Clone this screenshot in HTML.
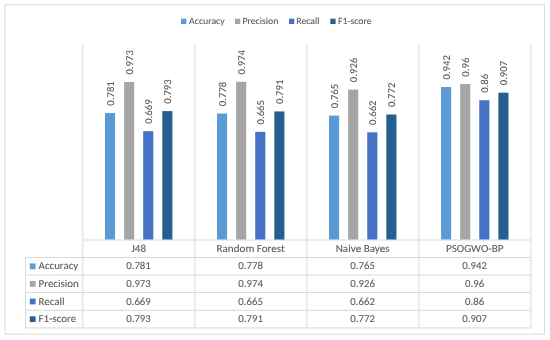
<!DOCTYPE html><html><head><meta charset="utf-8"><style>html,body{margin:0;padding:0;background:#fff;}svg{display:block}</style></head><body>
<svg width="550" height="340" viewBox="0 0 550 340">
<rect x="0" y="0" width="550" height="340" fill="#fff"/>
<path d="M5,4.6H544.5V334.2H5Z" fill="none" stroke="#DBDBDB" stroke-width="1"/>
<g stroke="#D9D9D9" stroke-width="1">
<line x1="82.80" y1="44" x2="82.80" y2="327.90"/>
<line x1="194.82" y1="44" x2="194.82" y2="327.90"/>
<line x1="306.85" y1="44" x2="306.85" y2="327.90"/>
<line x1="418.88" y1="44" x2="418.88" y2="327.90"/>
<line x1="530.90" y1="44" x2="530.90" y2="327.90"/>
<line x1="25.5" y1="257.5" x2="25.5" y2="327.9"/>
<line x1="82.8" y1="240" x2="530.9" y2="240"/>
<line x1="25" y1="257.5" x2="530.9" y2="257.5"/>
<line x1="25" y1="275.0" x2="530.9" y2="275.0"/>
<line x1="25" y1="292.5" x2="530.9" y2="292.5"/>
<line x1="25" y1="310.3" x2="530.9" y2="310.3"/>
<line x1="25" y1="327.9" x2="530.9" y2="327.9"/>
</g>
<rect x="104.99" y="113.06" width="10.1" height="126.44" fill="#5B9BD5"/>
<rect x="217.02" y="113.54" width="10.1" height="125.96" fill="#5B9BD5"/>
<rect x="329.04" y="115.65" width="10.1" height="123.85" fill="#5B9BD5"/>
<rect x="441.07" y="86.99" width="10.1" height="152.51" fill="#5B9BD5"/>
<rect x="124.09" y="81.97" width="10.1" height="157.53" fill="#A5A5A5"/>
<rect x="236.12" y="81.81" width="10.1" height="157.69" fill="#A5A5A5"/>
<rect x="348.14" y="89.58" width="10.1" height="149.92" fill="#A5A5A5"/>
<rect x="460.17" y="84.08" width="10.1" height="155.42" fill="#A5A5A5"/>
<rect x="143.19" y="131.19" width="10.1" height="108.31" fill="#4472C4"/>
<rect x="255.22" y="131.84" width="10.1" height="107.66" fill="#4472C4"/>
<rect x="367.24" y="132.32" width="10.1" height="107.18" fill="#4472C4"/>
<rect x="479.27" y="100.27" width="10.1" height="139.23" fill="#4472C4"/>
<rect x="162.29" y="111.11" width="10.1" height="128.39" fill="#255E91"/>
<rect x="274.32" y="111.44" width="10.1" height="128.06" fill="#255E91"/>
<rect x="386.34" y="114.51" width="10.1" height="124.99" fill="#255E91"/>
<rect x="498.37" y="92.66" width="10.1" height="146.84" fill="#255E91"/>
<rect x="181" y="18.7" width="5.3" height="5.3" fill="#5B9BD5"/>
<rect x="235" y="18.7" width="5.3" height="5.3" fill="#A5A5A5"/>
<rect x="289" y="18.7" width="5.3" height="5.3" fill="#4472C4"/>
<rect x="330.3" y="18.7" width="5.3" height="5.3" fill="#255E91"/>
<rect x="29.8" y="263.45" width="5.8" height="5.8" fill="#5B9BD5"/>
<rect x="29.8" y="280.95" width="5.8" height="5.8" fill="#A5A5A5"/>
<rect x="29.8" y="298.60" width="5.8" height="5.8" fill="#4472C4"/>
<rect x="29.8" y="316.30" width="5.8" height="5.8" fill="#255E91"/>
<g font-family='Carlito, "Liberation Sans", sans-serif' text-rendering="geometricPrecision" fill="#595959" stroke="#595959" stroke-width="0.08">
<text transform="translate(113.51,105.66) rotate(-90) scale(1.02,1.0)" font-size="10.5">0.781</text>
<text transform="translate(225.54,106.14) rotate(-90) scale(1.02,1.0)" font-size="10.5">0.778</text>
<text transform="translate(337.56,108.25) rotate(-90) scale(1.02,1.0)" font-size="10.5">0.765</text>
<text transform="translate(449.59,79.59) rotate(-90) scale(1.02,1.0)" font-size="10.5">0.942</text>
<text transform="translate(132.61,74.57) rotate(-90) scale(1.02,1.0)" font-size="10.5">0.973</text>
<text transform="translate(244.64,74.41) rotate(-90) scale(1.02,1.0)" font-size="10.5">0.974</text>
<text transform="translate(356.66,82.18) rotate(-90) scale(1.02,1.0)" font-size="10.5">0.926</text>
<text transform="translate(468.69,76.68) rotate(-90) scale(1.02,1.0)" font-size="10.5">0.96</text>
<text transform="translate(151.71,123.79) rotate(-90) scale(1.02,1.0)" font-size="10.5">0.669</text>
<text transform="translate(263.74,124.44) rotate(-90) scale(1.02,1.0)" font-size="10.5">0.665</text>
<text transform="translate(375.76,124.92) rotate(-90) scale(1.02,1.0)" font-size="10.5">0.662</text>
<text transform="translate(487.79,92.87) rotate(-90) scale(1.02,1.0)" font-size="10.5">0.86</text>
<text transform="translate(170.81,103.71) rotate(-90) scale(1.02,1.0)" font-size="10.5">0.793</text>
<text transform="translate(282.84,104.04) rotate(-90) scale(1.02,1.0)" font-size="10.5">0.791</text>
<text transform="translate(394.86,107.11) rotate(-90) scale(1.02,1.0)" font-size="10.5">0.772</text>
<text transform="translate(506.89,85.26) rotate(-90) scale(1.02,1.0)" font-size="10.5">0.907</text>
<text transform="translate(189.10,24.40) scale(1.03,1.0)" font-size="9.5">Accuracy</text>
<text transform="translate(242.40,24.40) scale(1.03,1.0)" font-size="9.5">Precision</text>
<text transform="translate(296.30,24.40) scale(1.03,1.0)" font-size="9.5">Recall</text>
<text transform="translate(338.00,24.40) scale(1.03,1.0)" font-size="9.5">F1-score</text>
<text transform="translate(138.61,251.60) scale(1.03,1.0)" font-size="10.8" text-anchor="middle">J48</text>
<text transform="translate(250.64,251.60) scale(1.03,1.0)" font-size="10.8" text-anchor="middle">Random Forest</text>
<text transform="translate(362.66,251.60) scale(1.03,1.0)" font-size="10.8" text-anchor="middle">Naive Bayes</text>
<text transform="translate(474.69,251.60) scale(1.03,1.0)" font-size="10.8" text-anchor="middle">PSOGWO-BP</text>
<text transform="translate(38.60,269.00) scale(1.03,1.0)" font-size="10.6">Accuracy</text>
<text transform="translate(138.51,269.00) scale(1.02,1.0)" font-size="10.6" text-anchor="middle">0.781</text>
<text transform="translate(250.54,269.00) scale(1.02,1.0)" font-size="10.6" text-anchor="middle">0.778</text>
<text transform="translate(362.56,269.00) scale(1.02,1.0)" font-size="10.6" text-anchor="middle">0.765</text>
<text transform="translate(474.59,269.00) scale(1.02,1.0)" font-size="10.6" text-anchor="middle">0.942</text>
<text transform="translate(38.60,287.00) scale(1.03,1.0)" font-size="10.6">Precision</text>
<text transform="translate(138.51,287.00) scale(1.02,1.0)" font-size="10.6" text-anchor="middle">0.973</text>
<text transform="translate(250.54,287.00) scale(1.02,1.0)" font-size="10.6" text-anchor="middle">0.974</text>
<text transform="translate(362.56,287.00) scale(1.02,1.0)" font-size="10.6" text-anchor="middle">0.926</text>
<text transform="translate(474.59,287.00) scale(1.02,1.0)" font-size="10.6" text-anchor="middle">0.96</text>
<text transform="translate(38.60,305.00) scale(1.03,1.0)" font-size="10.6">Recall</text>
<text transform="translate(138.51,305.00) scale(1.02,1.0)" font-size="10.6" text-anchor="middle">0.669</text>
<text transform="translate(250.54,305.00) scale(1.02,1.0)" font-size="10.6" text-anchor="middle">0.665</text>
<text transform="translate(362.56,305.00) scale(1.02,1.0)" font-size="10.6" text-anchor="middle">0.662</text>
<text transform="translate(474.59,305.00) scale(1.02,1.0)" font-size="10.6" text-anchor="middle">0.86</text>
<text transform="translate(38.60,322.00) scale(1.03,1.0)" font-size="10.6">F1-score</text>
<text transform="translate(138.51,322.00) scale(1.02,1.0)" font-size="10.6" text-anchor="middle">0.793</text>
<text transform="translate(250.54,322.00) scale(1.02,1.0)" font-size="10.6" text-anchor="middle">0.791</text>
<text transform="translate(362.56,322.00) scale(1.02,1.0)" font-size="10.6" text-anchor="middle">0.772</text>
<text transform="translate(474.59,322.00) scale(1.02,1.0)" font-size="10.6" text-anchor="middle">0.907</text>
</g>
</svg></body></html>
